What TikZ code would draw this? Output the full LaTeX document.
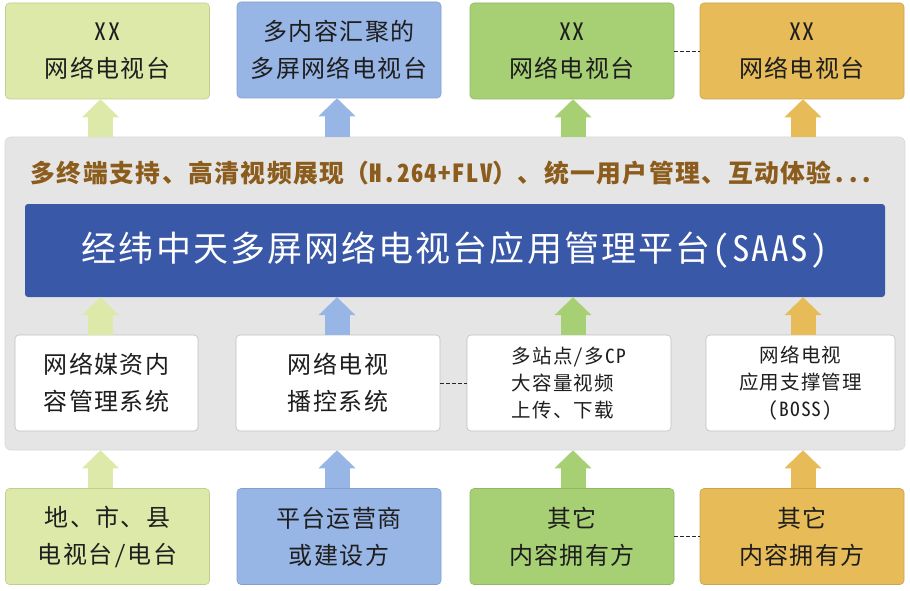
\documentclass[tikz,border=0pt]{standalone}
\usepackage{fontspec}
\setmainfont{Noto Sans CJK SC}[RawFeature=+hwid,LetterSpace=6]
\newfontfamily\fullw{Noto Sans CJK SC}[LetterSpace=6]
\usepackage{xcolor}
\usepackage{tikz}
\usetikzlibrary{positioning,arrows.meta}

\definecolor{lgreen}{RGB}{221,233,168}
\definecolor{lblue}{RGB}{151,181,229}
\definecolor{mgreen}{RGB}{167,208,116}
\definecolor{lorange}{RGB}{230,187,88}
\definecolor{panelgray}{RGB}{229,229,229}
\definecolor{barblue}{RGB}{58,88,168}
\definecolor{brown}{RGB}{139,92,28}
\definecolor{txt}{RGB}{30,30,30}

\begin{document}
\begin{tikzpicture}[x=1pt, y=-1pt,
  box/.style={rounded corners=4pt, fill=#1, draw=#1!88!black, line width=0.6pt,
    minimum width=204pt, minimum height=96pt, inner sep=0pt, align=center,
    text=txt, font=\fontsize{24}{37}\selectfont},
  sysbox/.style={rounded corners=4pt, fill=white, draw=black!25, line width=0.6pt,
    minimum height=96pt, inner sep=0pt, text=txt},
  small/.style={font=\fontsize{19.5}{27}\selectfont},
  big/.style={font=\fontsize{24}{37}\selectfont},
  up/.style={draw=#1, line width=25pt,
    -{Triangle[length=18pt,width=37pt,line width=0pt]}},
  dashline/.style={draw=black!85, line width=0.9pt, dash pattern=on 4pt off 2pt}]
\useasboundingbox (0,0) rectangle (910,591);
\fill[white] (0,0) rectangle (910,591);
% central panel
\node[rounded corners=6pt, fill=panelgray, draw=black!15, line width=0.6pt,
  minimum width=900pt, minimum height=313pt] (panel) at (455,293.5) {};
\node[font=\bfseries\fontsize{24.8}{30}\selectfont, text=brown] (feat) at (452,173)
  {多终端支持、高清视频展现{\fullw（}H.264+FLV{\fullw）}、统一用户管理、互动体验...};
\node[rounded corners=3pt, fill=barblue, minimum width=860pt, minimum height=93pt,
  text=white, font=\fontsize{35}{40}\selectfont] (bar) at (455,250.5)
  {经纬中天多屏网络电视台应用管理平台(SAAS)};
% top row: stations
\node[box=lgreen] (tv1) at (107.5,51) {XX\\网络电视台};
\node[box=lblue] (tv2) at (339,50) {多内容汇聚的\\多屏网络电视台};
\node[box=mgreen] (tv3) at (572,51) {XX\\网络电视台};
\node[box=lorange] (tv4) at (802,51) {XX\\网络电视台};
% systems inside the panel
\node[sysbox, big, minimum width=183pt, align=center] (sys1) at (106.5,383) {网络媒资内\\容管理系统};
\node[sysbox, big, minimum width=204pt, align=center] (sys2) at (338,383) {网络电视\\播控系统};
\node[sysbox, small, minimum width=204pt, align=left] (sys3) at (569,383) {多站点/多CP\\大容量视频\\上传、下载};
\node[sysbox, small, minimum width=189pt, align=center] (sys4) at (800.5,383) {网络电视\\应用支撑管理\\(BOSS)};
% bottom row: content sources
\node[box=lgreen] (src1) at (107.5,536.5) {地、市、县\\电视台/电台};
\node[box=lblue] (src2) at (339,536.5) {平台运营商\\或建设方};
\node[box=mgreen] (src3) at (572,536.5) {其它\\内容拥有方};
\node[box=lorange] (src4) at (802,536.5) {其它\\内容拥有方};
% block arrows, column by column
\foreach \c/\col/\dx in {1/lgreen/-7,2/lblue/-2,3/mgreen/1,4/lorange/1}{
  \draw[up=\col] ([xshift=\dx]src\c.north) -- ([xshift=\dx]src\c.north |- panel.south);
  \draw[up=\col] ([xshift=\dx]src\c.north |- sys\c.north) -- ([xshift=\dx]src\c.north |- bar.south);
  \draw[up=\col] ([xshift=\dx]tv\c.south |- panel.north) -- ([xshift=\dx]tv\c.south);
}
% dashed links
\draw[dashline] (tv3.east) -- (tv4.west);
\draw[dashline] (sys2.east) -- (sys3.west);
\draw[dashline] (src3.east) -- (src4.west);
\end{tikzpicture}
\end{document}
